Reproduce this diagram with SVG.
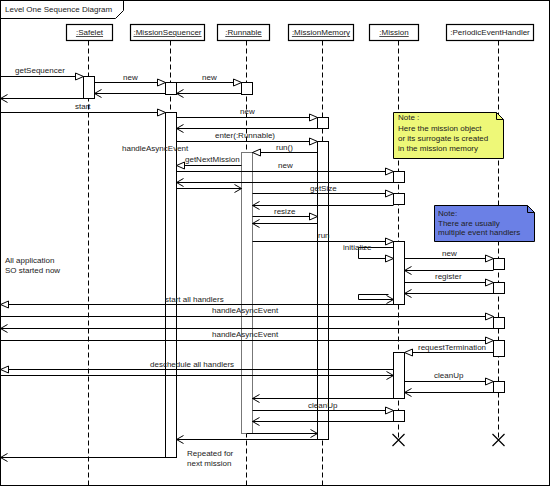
<svg xmlns="http://www.w3.org/2000/svg" width="553" height="487" viewBox="0 0 553 487">
<style>
text{font-family:"Liberation Sans",Arial,sans-serif;font-size:8px;fill:#222}
.head{fill:#fff;stroke:#000;stroke-width:1.2}
.hl{text-anchor:middle;text-decoration:underline}
.life{stroke:#000;stroke-width:1;stroke-dasharray:5,3;fill:none}
.act{fill:#fff;stroke:#000;stroke-width:1}
.actg{fill:#fff;stroke:#777;stroke-width:1}
.call{stroke:#000;stroke-width:1;fill:none;marker-end:url(#tri)}
.ret{stroke:#000;stroke-width:1;fill:none;marker-end:url(#stick)}
.x{stroke:#000;stroke-width:1.2}
</style>
<defs>
<marker id="tri" viewBox="0 0 10 10" refX="9" refY="5" markerWidth="10" markerHeight="10" markerUnits="userSpaceOnUse" orient="auto"><path d="M1,1.5 L9,5 L1,8.5 Z" fill="#fff" stroke="#000" stroke-width="1"/></marker>
<marker id="stick" viewBox="0 0 10 10" refX="9" refY="5" markerWidth="10" markerHeight="10" markerUnits="userSpaceOnUse" orient="auto"><path d="M2,1 L9,5 L2,9" fill="none" stroke="#000" stroke-width="1"/></marker>
</defs>
<rect x="0" y="0" width="553" height="487" fill="#fff"/>
<g id="frame">
<rect x="0.5" y="0.5" width="549" height="485" fill="none" stroke="#000" stroke-width="1"/>
<path d="M0.5,18.5 H115.5 L123.5,10.5 V0.5" fill="none" stroke="#000" stroke-width="1"/>
<text x="5" y="12">Level One Sequence Diagram</text>
</g>
<g id="safelet">
<line class="life" x1="88.5" y1="40.5" x2="88.5" y2="485"/>
<rect class="head" x="66.5" y="24.5" width="46" height="16"/>
<text class="hl" x="89.5" y="35">:Safelet</text>
<rect class="act" x="83.5" y="76.5" width="11" height="22"/>
</g>
<g id="missionSequencer">
<line class="life" x1="170.5" y1="40.5" x2="170.5" y2="112"/>
<rect class="head" x="130.5" y="24.5" width="74" height="16"/>
<text class="hl" x="167.5" y="35">:MissionSequencer</text>
<rect class="act" x="165.5" y="82.5" width="11" height="12"/>
<rect class="act" x="165.5" y="112.5" width="11" height="345"/>
</g>
<g id="runnable">
<line class="life" x1="246.5" y1="40.5" x2="246.5" y2="485"/>
<rect class="head" x="217.5" y="24.5" width="52" height="16"/>
<text class="hl" x="243.5" y="35">:Runnable</text>
<rect class="act" x="241.5" y="82.5" width="11" height="12"/>
<rect class="actg" x="241.5" y="152.5" width="11" height="281"/>
</g>
<g id="missionMemory">
<line class="life" x1="322.5" y1="40.5" x2="322.5" y2="485"/>
<rect class="head" x="288.5" y="24.5" width="65" height="16"/>
<text class="hl" x="321" y="35">:MissionMemory</text>
<rect class="act" x="317.5" y="117.5" width="11" height="11"/>
<rect class="act" x="317.5" y="141.5" width="11" height="298"/>
</g>
<g id="mission">
<line class="life" x1="398.5" y1="40.5" x2="398.5" y2="440"/>
<rect class="head" x="369.5" y="24.5" width="49" height="16"/>
<text class="hl" x="394" y="35">:Mission</text>
<rect class="act" x="393.5" y="171.5" width="11" height="11"/>
<rect class="act" x="393.5" y="193.5" width="11" height="11"/>
<rect class="act" x="393.5" y="241.5" width="11" height="63"/>
<rect class="act" x="393.5" y="352.5" width="11" height="46"/>
<rect class="act" x="393.5" y="410.5" width="11" height="11"/>
<path class="x" d="M392.5,434 L404.5,446 M404.5,434 L392.5,446"/>
</g>
<g id="periodicEventHandler">
<line class="life" x1="498.5" y1="40.5" x2="498.5" y2="440"/>
<rect class="head" x="446.5" y="24.5" width="87" height="16"/>
<text x="490" y="35" text-anchor="middle">:PeriodicEventHandler</text>
<rect class="act" x="493.5" y="258.5" width="11" height="11"/>
<rect class="act" x="493.5" y="282.5" width="11" height="11"/>
<rect class="act" x="493.5" y="317.5" width="11" height="11"/>
<rect class="act" x="493.5" y="340.5" width="11" height="16"/>
<rect class="act" x="493.5" y="381.5" width="11" height="11"/>
<path class="x" d="M492.5,434 L504.5,446 M504.5,434 L492.5,446"/>
</g>
<g id="note1">
<path d="M393.5,112.5 H496.5 L503.5,119.5 V158.5 H393.5 Z" fill="#eef878" stroke="#000" stroke-width="1"/>
<path d="M496.5,112.5 V119.5 H503.5" fill="none" stroke="#000" stroke-width="1"/>
<text x="398" y="120">Note :</text>
<text x="398" y="131">Here the mission object</text>
<text x="398" y="141">or its surrogate is created</text>
<text x="398" y="151">in the mission memory</text>
</g>
<g id="note2">
<path d="M434.5,205.5 H527.5 L534.5,212.5 V241.5 H434.5 Z" fill="#6b80e6" stroke="#000" stroke-width="1"/>
<path d="M527.5,205.5 V212.5 H534.5" fill="none" stroke="#000" stroke-width="1"/>
<text x="438" y="216">Note:</text>
<text x="438" y="226">There are usually</text>
<text x="438" y="235">multiple event handlers</text>
</g>
<g id="connectors">
<path class="call" d="M0.5,76.5 H83.5"/>
<path class="call" d="M94.5,82.5 H165.5"/>
<path class="call" d="M176.5,82.5 H241.5"/>
<path class="ret" d="M241.5,93.5 H176.5"/>
<path class="ret" d="M165.5,93.5 H94.5"/>
<path class="ret" d="M83.5,98.5 H0.5"/>
<path class="call" d="M0.5,112.5 H165.5"/>
<path class="call" d="M176.5,117.5 H317.5"/>
<path class="ret" d="M317.5,128.5 H176.5"/>
<path class="call" d="M176.5,141.5 H317.5"/>
<path class="call" d="M317.5,152.5 H252.5"/>
<path class="call" d="M241.5,165.5 H176.5"/>
<path class="call" d="M176.5,171.5 H393.5"/>
<path class="ret" d="M393.5,182.5 H176.5"/>
<path class="ret" d="M176.5,188.5 H241.5"/>
<path class="call" d="M252.5,193.5 H393.5"/>
<path class="ret" d="M393.5,205.5 H252.5"/>
<path class="call" d="M252.5,216.5 H317.5"/>
<path class="ret" d="M317.5,223.5 H252.5"/>
<path class="call" d="M252.5,241.5 H393.5"/>
<path class="call" d="M393.5,247.5 H358.5 V258.5 H393.5"/>
<path class="call" d="M404.5,258.5 H493.5"/>
<path class="ret" d="M493.5,270.5 H404.5"/>
<path class="call" d="M404.5,282.5 H493.5"/>
<path class="ret" d="M493.5,293.5 H404.5"/>
<path class="ret" d="M388.5,294.5 H358.5 V299.5 H393.5"/>
<path class="call" d="M393.5,304.5 H0.5"/>
<path class="call" d="M0.5,316.5 H493.5"/>
<path class="ret" d="M493.5,328.5 H0.5"/>
<path class="call" d="M0.5,340.5 H493.5"/>
<path class="call" d="M493.5,352.5 H404.5"/>
<path class="call" d="M393.5,369.5 H0.5"/>
<path class="ret" d="M0.5,375.5 H393.5"/>
<path class="call" d="M404.5,381.5 H493.5"/>
<path class="ret" d="M493.5,392.5 H404.5"/>
<path class="ret" d="M393.5,398.5 H252.5"/>
<path class="call" d="M252.5,410.5 H393.5"/>
<path class="ret" d="M393.5,421.5 H252.5"/>
<path class="ret" d="M246.5,433.5 H317.5"/>
<path class="ret" d="M317.5,439.5 H176.5"/>
<path class="ret" d="M165.5,457.5 H0.5"/>
<text x="15" y="73">getSequencer</text>
<text x="123" y="80">new</text>
<text x="202" y="80">new</text>
<text x="75" y="109">start</text>
<text x="240" y="114">new</text>
<text x="215" y="138">enter(:Runnable)</text>
<text x="276" y="150">run()</text>
<text x="122" y="151">handleAsyncEvent</text>
<text x="185" y="162">getNextMission</text>
<text x="278" y="168">new</text>
<text x="310" y="191">getSize</text>
<text x="274" y="214">resize</text>
<text x="318" y="238">run</text>
<text x="343" y="250">initialize</text>
<text x="442" y="256">new</text>
<text x="435" y="279">register</text>
<text x="165" y="302">start all handlers</text>
<text x="212" y="313">handleAsyncEvent</text>
<text x="212" y="337">handleAsyncEvent</text>
<text x="418" y="350">requestTermination</text>
<text x="150" y="367">deschedule all handlers</text>
<text x="434" y="378">cleanUp</text>
<text x="308" y="408">cleanUp</text>
</g>
<g id="annotations">
<text x="5" y="263">All application</text>
<text x="5" y="273">SO started now</text>
<text x="187" y="456">Repeated for</text>
<text x="187" y="466">next mission</text>
</g>
</svg>
